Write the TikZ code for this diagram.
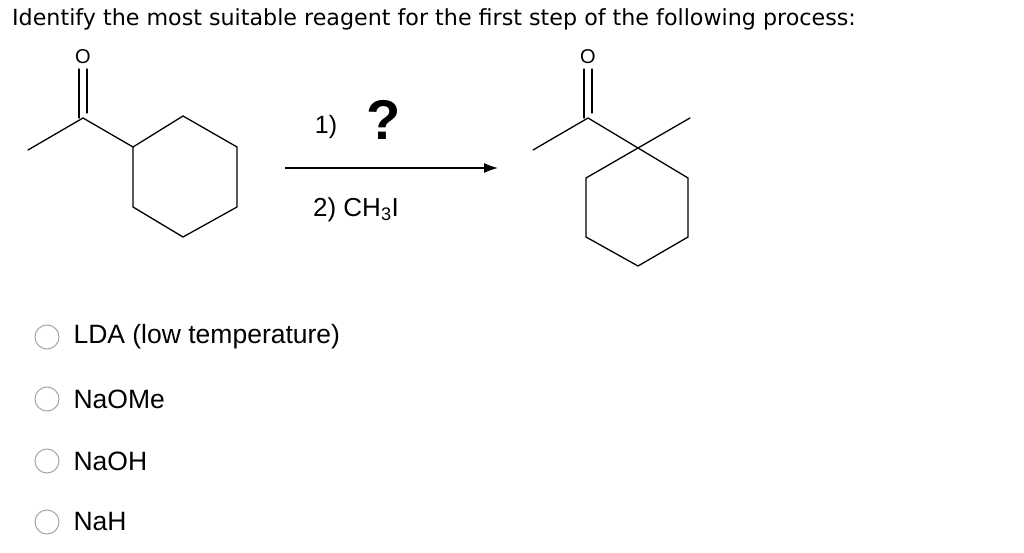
\documentclass[tikz,border=0pt]{standalone}
\usepackage{fontspec}
\usetikzlibrary{arrows.meta}
\setmainfont{Liberation Sans}
\newfontfamily\dv{DejaVu Sans}
\begin{document}
\begin{tikzpicture}[x=1pt,y=-1pt,bond/.style={line width=1.3pt,line cap=round},
 opt/.style={anchor=west,font=\fontsize{26.5}{30}\selectfont},
 radio/.style={circle,draw=gray!70,line width=1pt,minimum size=24pt,inner sep=0pt}]
\useasboundingbox (0,0) rectangle (1024,553);
\node[anchor=west,font=\dv\fontsize{22.2}{26}\selectfont,inner sep=0pt] (title) at (12,19) {Identify the most suitable reagent for the first step of the following process:};
% molecule 1
\node[font=\fontsize{20}{22}\selectfont] (o1) at (83,57) {O};
\coordinate (c1) at (83,118); \coordinate (m1) at (28,150);
\coordinate (r1) at (133,147); \coordinate (r2) at (183,116); \coordinate (r3) at (237,147);
\coordinate (r4) at (237,207); \coordinate (r5) at (183,237); \coordinate (r6) at (133,207);
\draw[bond] (m1)--(c1)--(r1);
\draw[bond] (r1)--(r2)--(r3)--(r4)--(r5)--(r6)--cycle;
\draw[bond] (79,69)--(79,118); \draw[bond] (87,69)--(87,113);
% molecule 2
\node[font=\fontsize{20}{22}\selectfont] (o2) at (588,57) {O};
\coordinate (c2) at (588,118); \coordinate (m2) at (533,150);
\coordinate (q) at (638,148); \coordinate (m3) at (690,118);
\coordinate (s2) at (688,178); \coordinate (s3) at (688,237);
\coordinate (s4) at (638,266); \coordinate (s5) at (586,237); \coordinate (s6) at (586,178);
\draw[bond] (m2)--(c2)--(q)--(m3);
\draw[bond] (q)--(s2)--(s3)--(s4)--(s5)--(s6)--cycle;
\draw[bond] (584,69)--(584,118); \draw[bond] (592,69)--(592,113);
% arrow
\coordinate (a1) at (285,168); \coordinate (a2) at (498,168);
\draw[line width=1.3pt,-{Latex[length=14pt,width=10pt]}] (a1)--(a2);
\node[font=\fontsize{25}{28}\selectfont] (s1) at (326,127) {1)};
\node[font=\bfseries\fontsize{56}{60}\selectfont] (qm) at (384,120) {?};
\node[font=\fontsize{26}{30}\selectfont] (st2) at (356,210) {2) CH\textsubscript{3}I};
% options
\foreach \y/\t/\n in {337/LDA (low temperature)/a,399/NaOMe/b,461/NaOH/c,522/NaH/d}{
 \node[radio] (rb\n) at (47,\y) {};
 \node[opt] (t\n) at (70,\y) {\t};
}
\end{tikzpicture}
\end{document}
